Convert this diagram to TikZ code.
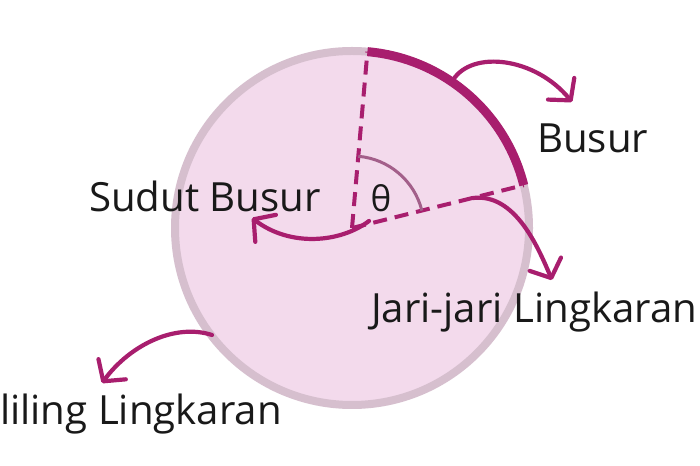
\documentclass[tikz,border=0pt]{standalone}
\usepackage{fontspec}
\setmainfont{Open Sans}
\usetikzlibrary{arrows.meta}
\definecolor{pinkfill}{RGB}{243,218,236}
\definecolor{ringgray}{RGB}{214,191,206}
\definecolor{magenta}{RGB}{168,30,110}
\definecolor{mauve}{RGB}{163,95,138}
\definecolor{ink}{RGB}{25,25,25}
\tikzset{
  lbl/.style={anchor=base west, inner sep=0pt, text=ink, font=\fontsize{40.2}{44}\selectfont},
  pointer/.style={draw=magenta, line width=4.2pt, line cap=round,
    -{Straight Barb[round,length=15pt,width=34pt]}},
  radius line/.style={draw=magenta, line width=4pt, dash pattern=on 14pt off 8pt},
}
\begin{document}
\begin{tikzpicture}[x=1pt,y=1pt]
\useasboundingbox (0,0) rectangle (700,465);
\coordinate (C) at (352,237);
\fill[white] (0,0) rectangle (700,465);
% circle
\draw[fill=pinkfill, draw=ringgray, line width=8pt] (C) circle[radius=177];
% arc (busur)
\draw[magenta, line width=9pt] ([shift={(14:177)}]C) arc[start angle=14, end angle=85, radius=177];
% radii
\coordinate (P1) at ([shift={(85:177)}]C);
\coordinate (P2) at ([shift={(14:177)}]C);
\draw[radius line] (C) -- (P1);
\draw[radius line] (C) -- (P2);
% angle
\draw[mauve, line width=3pt] ([shift={(85:72)}]C) arc[start angle=85, end angle=14, radius=72];
\node[inner sep=0pt, text=ink, font=\fontsize{35}{40}\selectfont] (theta) at (381,267) {θ};
% labels
\node[lbl] (busur) at (537,312) {Busur};
\node[lbl] (sudut) at (89,253) {Sudut Busur};
\node[lbl] (jari) at (371,142) {Jari-jari Lingkaran};
\node[lbl] (keliling) at (0,40) {liling Lingkaran};
% pointer ends
\coordinate (s1) at (453,385); \coordinate (t1) at (572,363);
\coordinate (s2) at (369,244); \coordinate (t2) at (252,247);
\coordinate (s3) at (473,267); \coordinate (t3) at (552,185);
\coordinate (s4) at (212,130); \coordinate (t4) at (102,82);
\draw[pointer] (s1) .. controls (472,415) and (535,408) .. (t1);
\draw[pointer] (s2) .. controls (340,222) and (290,218) .. (t2);
\draw[pointer] (s3) .. controls (515,272) and (538,218) .. (t3);
\draw[pointer] (s4) .. controls (175,142) and (130,120) .. (t4);
\end{tikzpicture}
\end{document}
